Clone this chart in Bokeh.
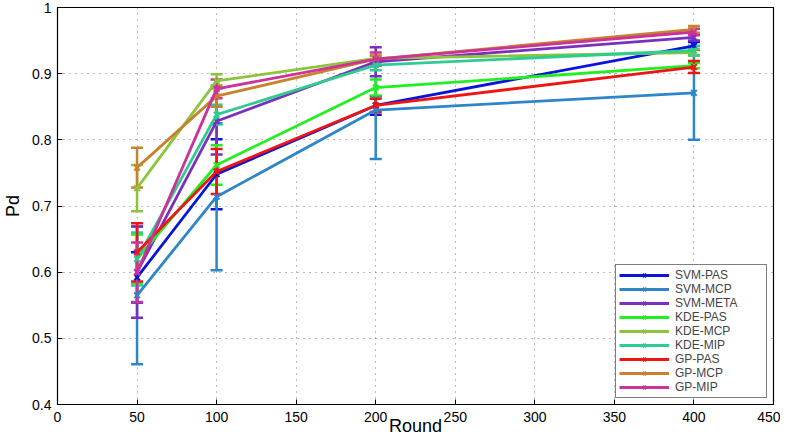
from bokeh.plotting import figure
from bokeh.models import ColumnDataSource, Whisker, TeeHead, FixedTicker, Range1d, Legend
from bokeh.embed import file_html
from bokeh.resources import INLINE

rounds = [50, 100, 200, 400]
names = ["SVM-PAS", "SVM-MCP", "SVM-META", "KDE-PAS", "KDE-MCP", "KDE-MIP", "GP-PAS", "GP-MCP", "GP-MIP"]
colors = ["#0a14d8", "#2e86c8", "#7b2fbf", "#22ee22", "#8cc43c", "#2ecc90", "#ee1515", "#c8822e", "#cc3399"]

means = {
    "SVM-PAS":  [0.592, 0.748, 0.852, 0.942],
    "SVM-MCP":  [0.565, 0.714, 0.845, 0.871],
    "SVM-META": [0.600, 0.828, 0.918, 0.955],
    "KDE-PAS":  [0.620, 0.762, 0.879, 0.912],
    "KDE-MCP":  [0.727, 0.889, 0.923, 0.932],
    "KDE-MIP":  [0.620, 0.838, 0.913, 0.935],
    "GP-PAS":   [0.630, 0.752, 0.852, 0.910],
    "GP-MCP":   [0.758, 0.866, 0.922, 0.967],
    "GP-MIP":   [0.600, 0.877, 0.922, 0.963],
}
errs = {
    "SVM-PAS":  [0.038, 0.053, 0.014, 0.006],
    "SVM-MCP":  [0.104, 0.111, 0.074, 0.071],
    "SVM-META": [0.069, 0.050, 0.022, 0.005],
    "KDE-PAS":  [0.037, 0.030, 0.012, 0.004],
    "KDE-MCP":  [0.035, 0.010, 0.005, 0.005],
    "KDE-MIP":  [0.040, 0.015, 0.008, 0.007],
    "GP-PAS":   [0.044, 0.034, 0.010, 0.009],
    "GP-MCP":   [0.030, 0.016, 0.005, 0.005],
    "GP-MIP":   [0.045, 0.014, 0.010, 0.005],
}

x_ticks = [0, 50, 100, 150, 200, 250, 300, 350, 400, 450]
y_ticks = [0.4, 0.5, 0.6, 0.7, 0.8, 0.9, 1.0]

FONT = "Liberation Sans"

p = figure(frame_width=716, frame_height=397, output_backend="svg", toolbar_location=None,
           x_range=Range1d(0, 450), y_range=Range1d(0.4, 1.0),
           min_border_left=50, min_border_right=7, min_border_top=7, min_border_bottom=0)
p.background_fill_color = "white"
p.border_fill_color = "white"
p.outline_line_color = "black"
p.outline_line_width = 1.2

for ax in (p.xaxis[0], p.yaxis[0]):
    ax.major_tick_in = 5
    ax.major_tick_out = 0
    ax.minor_tick_in = 0
    ax.minor_tick_out = 0
    ax.axis_line_color = "black"
    ax.major_tick_line_color = "black"
    ax.major_label_text_font = FONT
    ax.major_label_text_font_size = "14px"
    ax.major_label_text_color = "black"
    ax.axis_label_text_font = FONT
    ax.axis_label_text_font_size = "18px"
    ax.axis_label_text_font_style = "normal"
    ax.axis_label_text_color = "black"

p.xaxis.ticker = FixedTicker(ticks=x_ticks)
p.yaxis.ticker = FixedTicker(ticks=y_ticks)
p.yaxis.major_label_overrides = {0.4: "0.4", 0.5: "0.5", 0.6: "0.6", 0.7: "0.7", 0.8: "0.8", 0.9: "0.9", 1.0: "1"}
p.xaxis.axis_label = "Round"
p.yaxis.axis_label = "Pd"
p.xaxis.major_label_standoff = 7
p.xaxis.axis_label_standoff = -9
p.yaxis.major_label_standoff = 6
p.yaxis.axis_label_standoff = 6

p.xgrid.ticker = FixedTicker(ticks=x_ticks)
p.ygrid.ticker = FixedTicker(ticks=y_ticks)
for g in (p.xgrid[0], p.ygrid[0]):
    g.grid_line_color = "#555555"
    g.grid_line_dash = "1 5"
    g.grid_line_width = 1
    g.grid_line_alpha = 0.8

items = []
for name, col in zip(names, colors):
    m = means[name]
    e = errs[name]
    src = ColumnDataSource(data=dict(x=rounds, y=m,
                                     upper=[a + b for a, b in zip(m, e)],
                                     lower=[a - b for a, b in zip(m, e)]))
    w = Whisker(source=src, base="x", upper="upper", lower="lower",
                line_color=col, line_width=2.5,
                upper_head=TeeHead(size=12, line_color=col, line_width=2.5),
                lower_head=TeeHead(size=12, line_color=col, line_width=2.5))
    p.add_layout(w)
    r1 = p.line("x", "y", source=src, line_color=col, line_width=2.8)
    r2 = p.scatter("x", "y", source=src, marker="x", size=8, line_color=col, line_width=2)
    items.append((name, [r1, r2]))

legend = Legend(items=items, location="bottom_right")
legend.label_text_font = FONT
legend.label_text_font_size = "12px"
legend.label_height = 12
legend.label_width = 88
legend.glyph_height = 12
legend.glyph_width = 50
legend.spacing = 0
legend.padding = 3
legend.margin = 6
legend.label_standoff = 6
legend.border_line_color = "black"
legend.border_line_width = 1
legend.background_fill_alpha = 1
p.add_layout(legend)

open("out.html", "w").write(file_html(p, INLINE))
